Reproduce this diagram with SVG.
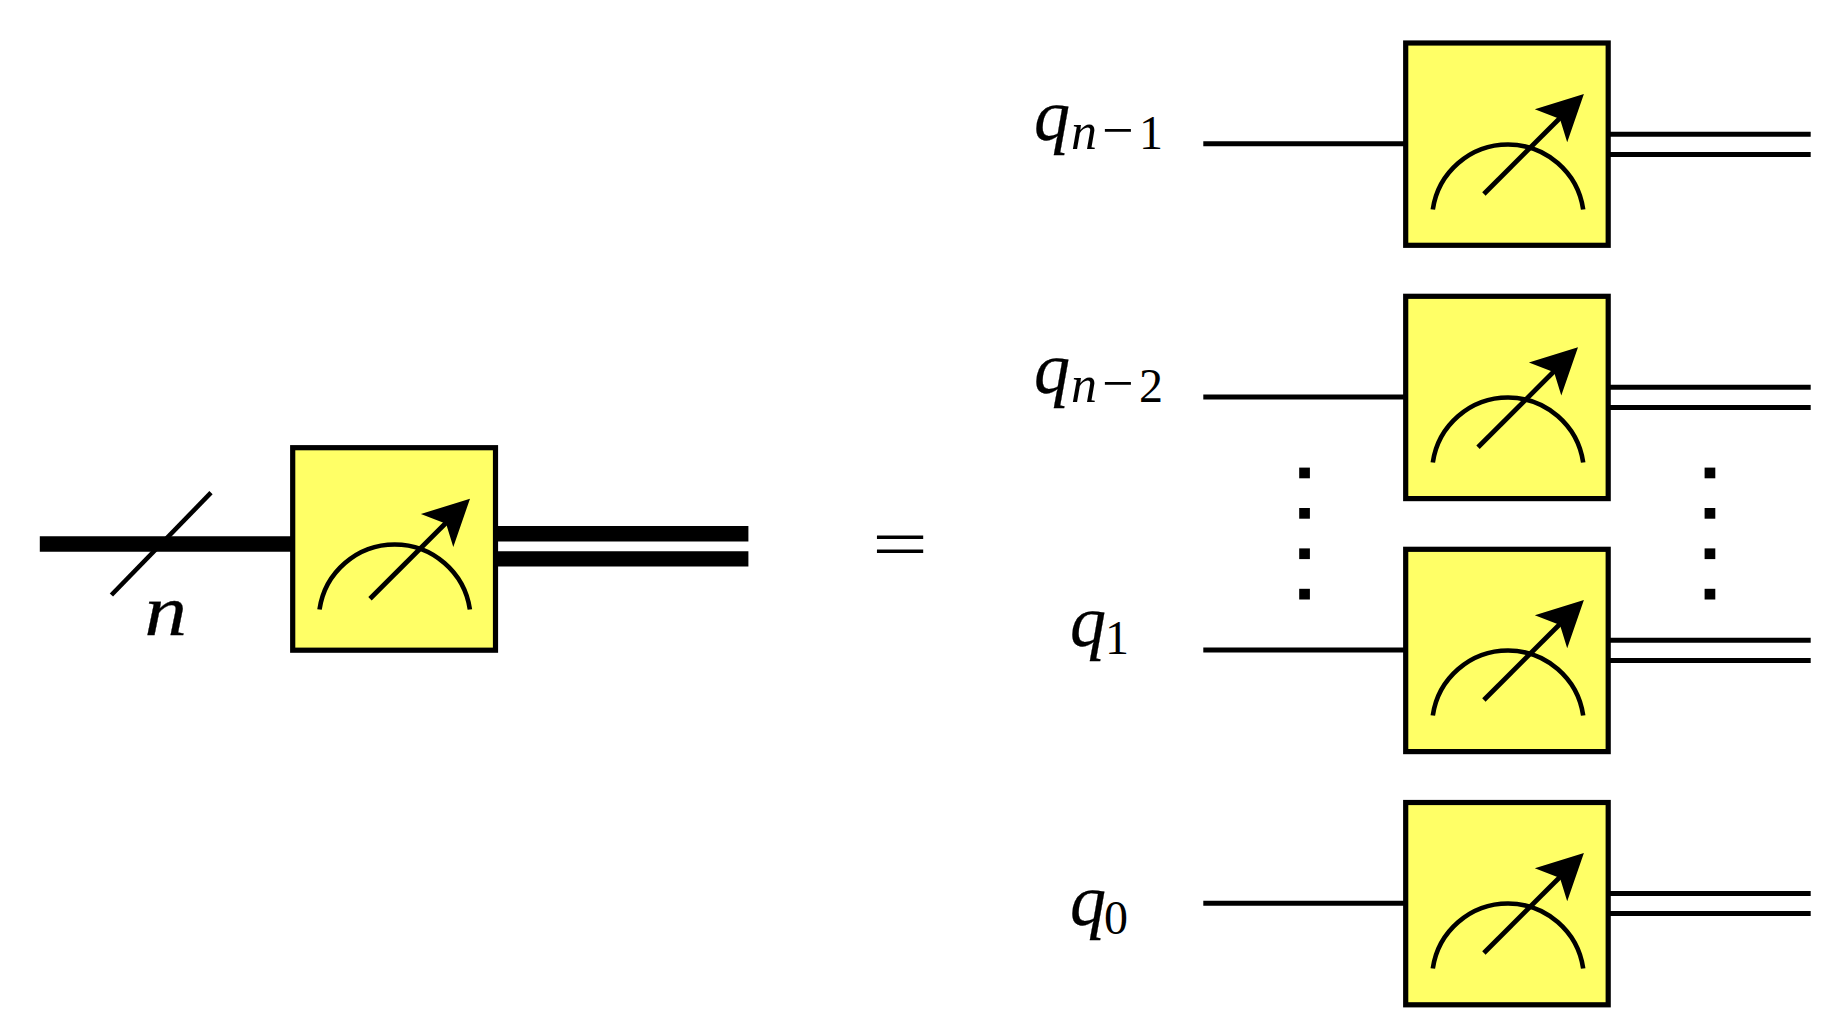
<svg xmlns="http://www.w3.org/2000/svg" xmlns:xlink="http://www.w3.org/1999/xlink" width="1842" height="1035" viewBox="0 0 1842 1035">
<style>
.box{fill:#ffff66;stroke:#000;stroke-width:5.2}
.wire{stroke:#000;stroke-width:5;fill:none}
.thick{stroke:#000;stroke-width:15.4;fill:none}
.slash{stroke:#000;stroke-width:4.6;fill:none}
.arc{fill:none;stroke:#000;stroke-width:4.6}
.needle{stroke:#000;stroke-width:4.8;fill:none}
.dot{fill:#000}
text{font-family:"Liberation Serif","DejaVu Serif",serif;fill:#000}
.m{font-style:italic;font-size:72px;stroke:#000;stroke-width:.3px}
.s{font-style:italic;font-size:52px}
.o{font-size:56px}
.d{font-size:48px}
.eq{font-size:70px}
</style>
<defs>
<g id="dial"><path class="arc" d="M-75.2 65.5A76 76 0 0 1 75.2 65.5"/></g>
<g id="needle"><path class="needle" d="M-24.1 50L55 -29"/><path d="M75.9 -50L26.8 -34.7L52 -25L59.2 -1.7Z"/></g>
</defs>
<rect width="1842" height="1035" fill="#fff"/>
<g id="connectors">
<path class="thick" d="M39.8 544H291"/>
<path class="slash" d="M111.4 595L211 492.7"/>
<path class="thick" d="M497 533.8H748.4M497 558.9H748.4"/>
<path class="wire" d="M1203.3 143.7H1404M1609 134.2H1810.7M1609 154.5H1810.7"/>
<path class="wire" d="M1203.3 397H1404M1609 387.3H1810.7M1609 407.5H1810.7"/>
<path class="wire" d="M1203.3 650H1404M1609 640.3H1810.7M1609 660.5H1810.7"/>
<path class="wire" d="M1203.3 903.3H1404M1609 893.4H1810.7M1609 913.6H1810.7"/>
</g>
<g id="measure-all"><rect class="box" x="292.7" y="447.7" width="202.8" height="202.5"/><use xlink:href="#dial" href="#dial" x="394.7" y="544"/><use xlink:href="#needle" href="#needle" x="394.1" y="548.7"/></g>
<g id="measure-n1"><rect class="box" x="1405.7" y="43" width="202.5" height="202.3"/><use xlink:href="#dial" href="#dial" x="1508" y="144"/><use xlink:href="#needle" href="#needle" x="1508" y="144"/></g>
<g id="measure-n2"><rect class="box" x="1405.7" y="296.3" width="202.5" height="202.3"/><use xlink:href="#dial" href="#dial" x="1508" y="397"/><use xlink:href="#needle" href="#needle" x="1502.1" y="397.3"/></g>
<g id="measure-1"><rect class="box" x="1405.7" y="549.3" width="202.5" height="202.3"/><use xlink:href="#dial" href="#dial" x="1508" y="650"/><use xlink:href="#needle" href="#needle" x="1508" y="650"/></g>
<g id="measure-0"><rect class="box" x="1405.7" y="802.5" width="202.5" height="202.3"/><use xlink:href="#dial" href="#dial" x="1508" y="903"/><use xlink:href="#needle" href="#needle" x="1508" y="903"/></g>
<g id="vdots-left"><rect class="dot" x="1299.2" y="467.6" width="10.7" height="10.7"/><rect class="dot" x="1299.2" y="508" width="10.7" height="10.7"/><rect class="dot" x="1299.2" y="548.4" width="10.7" height="10.7"/><rect class="dot" x="1299.2" y="588.8" width="10.7" height="10.7"/></g>
<g id="vdots-right"><rect class="dot" x="1704.6" y="467.6" width="10.7" height="10.7"/><rect class="dot" x="1704.6" y="508" width="10.7" height="10.7"/><rect class="dot" x="1704.6" y="548.4" width="10.7" height="10.7"/><rect class="dot" x="1704.6" y="588.8" width="10.7" height="10.7"/></g>
<g id="labels">
<text class="m" transform="translate(144.5 635) scale(1.18 1)">n</text>
<text class="eq" transform="translate(872 568) scale(1.42 1)">=</text>
<text x="1034" y="140"><tspan class="m">q</tspan><tspan class="s" x="1071" y="149">n</tspan><tspan class="o" x="1102" y="149">−</tspan><tspan class="d" x="1139" y="149">1</tspan></text>
<text x="1034" y="393"><tspan class="m">q</tspan><tspan class="s" x="1071" y="402">n</tspan><tspan class="o" x="1102" y="402">−</tspan><tspan class="d" x="1139" y="402">2</tspan></text>
<text x="1070" y="646"><tspan class="m">q</tspan><tspan class="d" x="1105" y="654">1</tspan></text>
<text x="1070" y="925"><tspan class="m">q</tspan><tspan class="d" x="1104" y="934">0</tspan></text>
</g>
</svg>
